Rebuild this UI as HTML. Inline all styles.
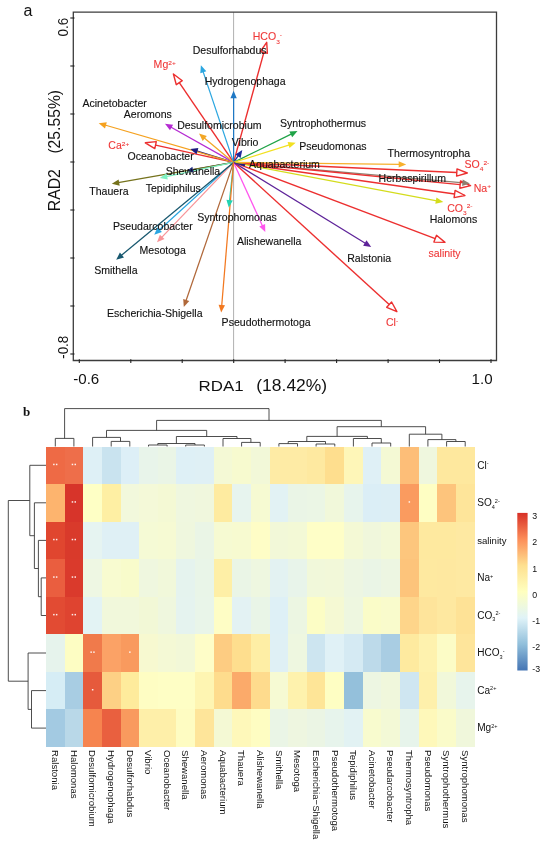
<!DOCTYPE html>
<html><head><meta charset="utf-8"><style>
html,body{margin:0;padding:0;background:#fff;}
body{width:550px;height:848px;overflow:hidden;position:relative;}
svg{position:absolute;left:0;top:0;filter:blur(0.3px);}
</style></head><body>
<svg width="550" height="848" viewBox="0 0 550 848">
<line x1="233.6" y1="12.2" x2="233.6" y2="360.5" stroke="#9a9a9a" stroke-width="0.8"/>
<line x1="233.6" y1="162.4" x2="463.4" y2="182.9" stroke="#8E7F70" stroke-width="1.25"/>
<line x1="233.6" y1="162.4" x2="263.9" y2="52.4" stroke="#EC2F2F" stroke-width="1.4"/>
<polygon points="266.7,42.3 267.4,53.4 260.4,51.5" fill="none" stroke="#EC2F2F" stroke-width="1.4" stroke-linejoin="round"/>
<line x1="233.6" y1="162.4" x2="179.3" y2="82.7" stroke="#EC2F2F" stroke-width="1.4"/>
<polygon points="173.4,74.0 182.3,80.7 176.3,84.7" fill="none" stroke="#EC2F2F" stroke-width="1.4" stroke-linejoin="round"/>
<line x1="233.6" y1="162.4" x2="155.6" y2="145.1" stroke="#EC2F2F" stroke-width="1.4"/>
<polygon points="145.3,142.8 156.3,141.6 154.8,148.6" fill="none" stroke="#EC2F2F" stroke-width="1.4" stroke-linejoin="round"/>
<line x1="233.6" y1="162.4" x2="456.8" y2="172.5" stroke="#EC2F2F" stroke-width="1.4"/>
<polygon points="467.3,173.0 456.6,176.1 457.0,168.9" fill="none" stroke="#EC2F2F" stroke-width="1.4" stroke-linejoin="round"/>
<line x1="233.6" y1="162.4" x2="460.1" y2="184.6" stroke="#EC2F2F" stroke-width="1.4"/>
<polygon points="470.6,185.6 459.8,188.2 460.5,181.0" fill="none" stroke="#EC2F2F" stroke-width="1.4" stroke-linejoin="round"/>
<line x1="233.6" y1="162.4" x2="454.6" y2="194.0" stroke="#EC2F2F" stroke-width="1.4"/>
<polygon points="465.0,195.5 454.1,197.6 455.1,190.4" fill="none" stroke="#EC2F2F" stroke-width="1.4" stroke-linejoin="round"/>
<line x1="233.6" y1="162.4" x2="435.2" y2="238.7" stroke="#EC2F2F" stroke-width="1.4"/>
<polygon points="445.0,242.4 433.9,242.1 436.5,235.3" fill="none" stroke="#EC2F2F" stroke-width="1.4" stroke-linejoin="round"/>
<line x1="233.6" y1="162.4" x2="389.2" y2="304.6" stroke="#EC2F2F" stroke-width="1.4"/>
<polygon points="396.9,311.7 386.7,307.3 391.6,302.0" fill="none" stroke="#EC2F2F" stroke-width="1.4" stroke-linejoin="round"/>
<line x1="233.6" y1="162.4" x2="196.5" y2="150.8" stroke="#1C1C80" stroke-width="1.25"/>
<line x1="233.6" y1="162.4" x2="193.4" y2="169.6" stroke="#1E2A80" stroke-width="1.25"/>
<line x1="233.6" y1="162.4" x2="203.0" y2="71.4" stroke="#2BA6E0" stroke-width="1.25"/>
<line x1="233.6" y1="162.4" x2="233.6" y2="97.3" stroke="#1F78C4" stroke-width="1.25"/>
<line x1="233.6" y1="162.4" x2="104.9" y2="125.0" stroke="#F5A11F" stroke-width="1.25"/>
<line x1="233.6" y1="162.4" x2="170.7" y2="127.0" stroke="#B52BD2" stroke-width="1.25"/>
<line x1="233.6" y1="162.4" x2="204.0" y2="137.8" stroke="#F2A625" stroke-width="1.25"/>
<line x1="233.6" y1="162.4" x2="238.5" y2="155.4" stroke="#1F2A9A" stroke-width="1.25"/>
<line x1="233.6" y1="162.4" x2="291.7" y2="133.9" stroke="#1FA347" stroke-width="1.25"/>
<line x1="233.6" y1="162.4" x2="289.5" y2="144.8" stroke="#F2E021" stroke-width="1.25"/>
<line x1="233.6" y1="162.4" x2="399.7" y2="164.4" stroke="#F7B02C" stroke-width="1.25"/>
<line x1="233.6" y1="162.4" x2="436.9" y2="200.8" stroke="#D4DC1C" stroke-width="1.25"/>
<line x1="233.6" y1="162.4" x2="118.2" y2="182.7" stroke="#75721C" stroke-width="1.25"/>
<line x1="233.6" y1="162.4" x2="166.2" y2="176.6" stroke="#7EF2C2" stroke-width="1.25"/>
<line x1="233.6" y1="162.4" x2="229.5" y2="201.0" stroke="#22D3B2" stroke-width="1.25"/>
<line x1="233.6" y1="162.4" x2="262.6" y2="226.2" stroke="#FF55EE" stroke-width="1.25"/>
<line x1="233.6" y1="162.4" x2="365.7" y2="243.5" stroke="#5E2399" stroke-width="1.25"/>
<line x1="233.6" y1="162.4" x2="159.0" y2="230.3" stroke="#2AA6E2" stroke-width="1.25"/>
<line x1="233.6" y1="162.4" x2="161.5" y2="237.6" stroke="#F89498" stroke-width="1.25"/>
<line x1="233.6" y1="162.4" x2="121.2" y2="255.6" stroke="#18586F" stroke-width="1.25"/>
<line x1="233.6" y1="162.4" x2="185.9" y2="301.0" stroke="#B0683A" stroke-width="1.25"/>
<line x1="233.6" y1="162.4" x2="221.7" y2="306.0" stroke="#F2781F" stroke-width="1.25"/>
<polygon points="190.3,148.9 198.4,148.1 196.5,154.2" fill="#1C1C80"/>
<polygon points="187.0,170.7 192.4,166.7 193.4,172.6" fill="#1E2A80"/>
<polygon points="200.9,65.2 206.3,71.3 200.3,73.3" fill="#2BA6E0"/>
<polygon points="233.6,90.8 236.8,98.3 230.4,98.3" fill="#1F78C4"/>
<polygon points="98.7,123.2 106.8,122.2 105.0,128.4" fill="#F5A11F"/>
<polygon points="165.0,123.8 173.1,124.7 170.0,130.3" fill="#B52BD2"/>
<polygon points="199.0,133.6 206.8,135.9 202.7,140.9" fill="#F2A625"/>
<polygon points="242.3,150.1 240.6,158.1 235.4,154.4" fill="#1F2A9A"/>
<polygon points="297.5,131.0 292.2,137.2 289.4,131.4" fill="#1FA347"/>
<polygon points="295.7,142.8 289.5,148.1 287.6,142.0" fill="#F2E021"/>
<polygon points="406.2,164.5 398.7,167.6 398.7,161.2" fill="#F7B02C"/>
<polygon points="469.9,183.5 462.1,186.0 462.7,179.6" fill="#8E7F70"/>
<polygon points="443.3,202.0 435.3,203.8 436.5,197.5" fill="#D4DC1C"/>
<polygon points="111.8,183.8 118.6,179.4 119.7,185.7" fill="#75721C"/>
<polygon points="159.8,177.9 166.5,173.2 167.8,179.5" fill="#7EF2C2"/>
<polygon points="228.8,207.5 226.4,199.7 232.8,200.4" fill="#22D3B2"/>
<polygon points="265.3,232.1 259.3,226.6 265.1,223.9" fill="#FF55EE"/>
<polygon points="371.2,246.9 363.1,245.7 366.5,240.2" fill="#5E2399"/>
<polygon points="154.2,234.7 157.6,227.3 161.9,232.0" fill="#2AA6E2"/>
<polygon points="157.0,242.3 159.9,234.7 164.5,239.1" fill="#F89498"/>
<polygon points="116.2,259.7 119.9,252.5 124.0,257.4" fill="#18586F"/>
<polygon points="183.8,307.1 183.2,299.0 189.3,301.0" fill="#B0683A"/>
<polygon points="221.2,312.5 218.6,304.8 225.0,305.3" fill="#F2781F"/>
<polygon points="234,162.8 245.5,164.2 244.5,166.6" fill="#1C1C80"/>
<g font-family='"Liberation Sans", sans-serif' font-size="10.0" fill="#111" stroke="#111" stroke-width="0.12">
<text transform="translate(192.7,54.4) scale(1.056,1)">Desulforhabdus</text>
<text transform="translate(204.7,85.2) scale(1.056,1)">Hydrogenophaga</text>
<text transform="translate(82.4,106.9) scale(1.056,1)">Acinetobacter</text>
<text transform="translate(123.8,118.4) scale(1.056,1)">Aeromons</text>
<text transform="translate(177.2,128.7) scale(1.056,1)">Desulfomicrobium</text>
<text transform="translate(127.5,159.9) scale(1.056,1)">Oceanobacter</text>
<text transform="translate(165.7,174.9) scale(1.056,1)">Shewanella</text>
<text transform="translate(231.7,145.5) scale(1.056,1)">Vibrio</text>
<text transform="translate(280.0,127.2) scale(1.056,1)">Syntrophothermus</text>
<text transform="translate(299.2,149.8) scale(1.056,1)">Pseudomonas</text>
<text transform="translate(387.6,157.1) scale(1.056,1)">Thermosyntropha</text>
<text transform="translate(378.6,182.1) scale(1.056,1)">Herbaspirillum</text>
<text transform="translate(429.7,222.5) scale(1.056,1)">Halomons</text>
<text transform="translate(89.3,194.7) scale(1.056,1)">Thauera</text>
<text transform="translate(145.7,191.5) scale(1.056,1)">Tepidiphilus</text>
<text transform="translate(197.2,220.6) scale(1.056,1)">Syntrophomonas</text>
<text transform="translate(236.9,244.6) scale(1.056,1)">Alishewanella</text>
<text transform="translate(347.2,261.6) scale(1.056,1)">Ralstonia</text>
<text transform="translate(113.0,229.5) scale(1.056,1)">Pseudarcobacter</text>
<text transform="translate(139.5,254.1) scale(1.056,1)">Mesotoga</text>
<text transform="translate(94.2,274.2) scale(1.056,1)">Smithella</text>
<text transform="translate(107.0,317.4) scale(1.056,1)">Escherichia-Shigella</text>
<text transform="translate(221.6,326.1) scale(1.056,1)">Pseudothermotoga</text>
<text transform="translate(249,167.6) scale(1.056,1)">Aquabacterium</text>
</g>
<g font-family='"Liberation Sans", sans-serif' font-size="10.0" fill="#EE3737" stroke="#EE3737" stroke-width="0.1">
<text transform="translate(252.7,40.2) scale(1.056,1)">HCO<tspan font-size="6.2" dy="3.3">3</tspan><tspan font-size="6.2" dy="-6.6">-</tspan></text>
<text transform="translate(153.6,68.2) scale(1.056,1)">Mg<tspan font-size="6.2" dy="-3.2">2+</tspan></text>
<text transform="translate(108.3,149.4) scale(1.056,1)">Ca<tspan font-size="6.2" dy="-3.2">2+</tspan></text>
<text transform="translate(464.5,167.7) scale(1.056,1)">SO<tspan font-size="6.2" dy="3.0">4</tspan><tspan font-size="6.2" dy="-6.2">2-</tspan></text>
<text transform="translate(473.7,191.6) scale(1.056,1)">Na<tspan font-size="6.2" dy="-3.2">+</tspan></text>
<text transform="translate(447.2,211.6) scale(1.056,1)">CO<tspan font-size="6.2" dy="3.0">3</tspan><tspan font-size="6.2" dy="-6.2">2-</tspan></text>
<text transform="translate(428.4,256.8) scale(1.056,1)">salinity</text>
<text transform="translate(386,326.2) scale(1.056,1)">Cl<tspan font-size="6.2" dy="-3.2">-</tspan></text>
</g>
<path d="M73.3,12.2 H496.5 V360.5 H73.3 Z" fill="none" stroke="#3c3c3c" stroke-width="1.3"/>
<line x1="70.3" y1="18" x2="74.5" y2="18" stroke="#222" stroke-width="1.1"/>
<line x1="70.3" y1="66" x2="74.5" y2="66" stroke="#222" stroke-width="1.1"/>
<line x1="70.3" y1="114" x2="74.5" y2="114" stroke="#222" stroke-width="1.1"/>
<line x1="70.3" y1="162" x2="74.5" y2="162" stroke="#222" stroke-width="1.1"/>
<line x1="70.3" y1="210" x2="74.5" y2="210" stroke="#222" stroke-width="1.1"/>
<line x1="70.3" y1="258" x2="74.5" y2="258" stroke="#222" stroke-width="1.1"/>
<line x1="70.3" y1="306" x2="74.5" y2="306" stroke="#222" stroke-width="1.1"/>
<line x1="70.3" y1="354" x2="74.5" y2="354" stroke="#222" stroke-width="1.1"/>
<line x1="79.3" y1="359.3" x2="79.3" y2="363" stroke="#222" stroke-width="1.1"/>
<line x1="130.8" y1="359.3" x2="130.8" y2="363" stroke="#222" stroke-width="1.1"/>
<line x1="182.2" y1="359.3" x2="182.2" y2="363" stroke="#222" stroke-width="1.1"/>
<line x1="233.7" y1="359.3" x2="233.7" y2="363" stroke="#222" stroke-width="1.1"/>
<line x1="285.1" y1="359.3" x2="285.1" y2="363" stroke="#222" stroke-width="1.1"/>
<line x1="336.6" y1="359.3" x2="336.6" y2="363" stroke="#222" stroke-width="1.1"/>
<line x1="388.1" y1="359.3" x2="388.1" y2="363" stroke="#222" stroke-width="1.1"/>
<line x1="439.5" y1="359.3" x2="439.5" y2="363" stroke="#222" stroke-width="1.1"/>
<line x1="491.0" y1="359.3" x2="491.0" y2="363" stroke="#222" stroke-width="1.1"/>
<g font-family='"Liberation Sans", sans-serif' fill="#111">
<text font-size="13.4" transform="translate(67.6,36.4) scale(1.06,1) rotate(-90)">0.6</text>
<text font-size="13.4" transform="translate(67.6,358.8) scale(1.06,1) rotate(-90)">-0.8</text>
<text font-size="14" transform="translate(73.2,383.7) scale(1.08,1)">-0.6</text>
<text font-size="14" transform="translate(471.6,383.7) scale(1.08,1)">1.0</text>
</g>
<g font-family='"Liberation Sans", sans-serif' fill="#111">
<text font-size="15.8" transform="translate(60.2,211.2) scale(1.03,1) rotate(-90)">RAD2</text>
<text font-size="15.7" transform="translate(60.2,153.6) scale(1.0,1) rotate(-90)">(25.55%)</text>
<text font-size="15.5" transform="translate(198.5,391) scale(1.09,1)">RDA1</text>
<text font-size="15.6" transform="translate(256.3,391) scale(1.12,1)">(18.42%)</text>
</g>
<text x="23.4" y="15.9" font-family='"Liberation Sans", sans-serif' font-size="16" fill="#111">a</text>
<text x="23" y="415.8" font-family='"Liberation Serif", serif' font-weight="bold" font-size="13" fill="#111">b</text>
<g shape-rendering="crispEdges">
<rect x="46.00" y="446.50" width="18.93" height="37.85" fill="#EE6A45"/>
<rect x="64.63" y="446.50" width="18.93" height="37.85" fill="#EE6E4A"/>
<rect x="83.26" y="446.50" width="18.93" height="37.85" fill="#DEF0F6"/>
<rect x="101.89" y="446.50" width="18.93" height="37.85" fill="#C9E3EF"/>
<rect x="120.52" y="446.50" width="18.93" height="37.85" fill="#DDEFF7"/>
<rect x="139.15" y="446.50" width="18.93" height="37.85" fill="#E8F4EA"/>
<rect x="157.78" y="446.50" width="18.93" height="37.85" fill="#EAF5E6"/>
<rect x="176.41" y="446.50" width="18.93" height="37.85" fill="#DEF0F6"/>
<rect x="195.04" y="446.50" width="18.93" height="37.85" fill="#DFF0F5"/>
<rect x="213.67" y="446.50" width="18.93" height="37.85" fill="#F4F9D5"/>
<rect x="232.30" y="446.50" width="18.93" height="37.85" fill="#F7FACF"/>
<rect x="250.93" y="446.50" width="18.93" height="37.85" fill="#F2F8D8"/>
<rect x="269.57" y="446.50" width="18.93" height="37.85" fill="#FEEBA5"/>
<rect x="288.20" y="446.50" width="18.93" height="37.85" fill="#FEEBA5"/>
<rect x="306.83" y="446.50" width="18.93" height="37.85" fill="#FEE9A0"/>
<rect x="325.46" y="446.50" width="18.93" height="37.85" fill="#FEDE8E"/>
<rect x="344.09" y="446.50" width="18.93" height="37.85" fill="#FEF6B8"/>
<rect x="362.72" y="446.50" width="18.93" height="37.85" fill="#DFF0F6"/>
<rect x="381.35" y="446.50" width="18.93" height="37.85" fill="#F4F9D4"/>
<rect x="399.98" y="446.50" width="18.93" height="37.85" fill="#FDBE78"/>
<rect x="418.61" y="446.50" width="18.93" height="37.85" fill="#EFF7DE"/>
<rect x="437.24" y="446.50" width="18.93" height="37.85" fill="#FEE89E"/>
<rect x="455.87" y="446.50" width="18.93" height="37.85" fill="#FEE89E"/>
<rect x="46.00" y="484.05" width="18.93" height="37.85" fill="#FDB46E"/>
<rect x="64.63" y="484.05" width="18.93" height="37.85" fill="#D7342A"/>
<rect x="83.26" y="484.05" width="18.93" height="37.85" fill="#FEFFC5"/>
<rect x="101.89" y="484.05" width="18.93" height="37.85" fill="#FEEFA3"/>
<rect x="120.52" y="484.05" width="18.93" height="37.85" fill="#F2F8DC"/>
<rect x="139.15" y="484.05" width="18.93" height="37.85" fill="#F4F9D8"/>
<rect x="157.78" y="484.05" width="18.93" height="37.85" fill="#F4F9D4"/>
<rect x="176.41" y="484.05" width="18.93" height="37.85" fill="#EFF7DF"/>
<rect x="195.04" y="484.05" width="18.93" height="37.85" fill="#F0F7DD"/>
<rect x="213.67" y="484.05" width="18.93" height="37.85" fill="#FEEBA0"/>
<rect x="232.30" y="484.05" width="18.93" height="37.85" fill="#E7F4EE"/>
<rect x="250.93" y="484.05" width="18.93" height="37.85" fill="#F6FAD2"/>
<rect x="269.57" y="484.05" width="18.93" height="37.85" fill="#E2F2F4"/>
<rect x="288.20" y="484.05" width="18.93" height="37.85" fill="#EAF5E6"/>
<rect x="306.83" y="484.05" width="18.93" height="37.85" fill="#EBF6E5"/>
<rect x="325.46" y="484.05" width="18.93" height="37.85" fill="#F1F8DA"/>
<rect x="344.09" y="484.05" width="18.93" height="37.85" fill="#E7F4EC"/>
<rect x="362.72" y="484.05" width="18.93" height="37.85" fill="#DBEEF6"/>
<rect x="381.35" y="484.05" width="18.93" height="37.85" fill="#DCEEF5"/>
<rect x="399.98" y="484.05" width="18.93" height="37.85" fill="#FA9B5F"/>
<rect x="418.61" y="484.05" width="18.93" height="37.85" fill="#FEFEC3"/>
<rect x="437.24" y="484.05" width="18.93" height="37.85" fill="#FDC47C"/>
<rect x="455.87" y="484.05" width="18.93" height="37.85" fill="#FEE59A"/>
<rect x="46.00" y="521.60" width="18.93" height="37.85" fill="#E0462F"/>
<rect x="64.63" y="521.60" width="18.93" height="37.85" fill="#D93A2B"/>
<rect x="83.26" y="521.60" width="18.93" height="37.85" fill="#E6F4F1"/>
<rect x="101.89" y="521.60" width="18.93" height="37.85" fill="#DFF0F5"/>
<rect x="120.52" y="521.60" width="18.93" height="37.85" fill="#DFF0F5"/>
<rect x="139.15" y="521.60" width="18.93" height="37.85" fill="#F5FAD5"/>
<rect x="157.78" y="521.60" width="18.93" height="37.85" fill="#F6FAD3"/>
<rect x="176.41" y="521.60" width="18.93" height="37.85" fill="#EFF7DE"/>
<rect x="195.04" y="521.60" width="18.93" height="37.85" fill="#EAF5E6"/>
<rect x="213.67" y="521.60" width="18.93" height="37.85" fill="#F6FAD2"/>
<rect x="232.30" y="521.60" width="18.93" height="37.85" fill="#F7FAD0"/>
<rect x="250.93" y="521.60" width="18.93" height="37.85" fill="#FEFDC6"/>
<rect x="269.57" y="521.60" width="18.93" height="37.85" fill="#F2F8D8"/>
<rect x="288.20" y="521.60" width="18.93" height="37.85" fill="#F3F9D6"/>
<rect x="306.83" y="521.60" width="18.93" height="37.85" fill="#FEFEC7"/>
<rect x="325.46" y="521.60" width="18.93" height="37.85" fill="#FEFEC7"/>
<rect x="344.09" y="521.60" width="18.93" height="37.85" fill="#F4F9D5"/>
<rect x="362.72" y="521.60" width="18.93" height="37.85" fill="#F0F7DC"/>
<rect x="381.35" y="521.60" width="18.93" height="37.85" fill="#F3F9D7"/>
<rect x="399.98" y="521.60" width="18.93" height="37.85" fill="#FDC67D"/>
<rect x="418.61" y="521.60" width="18.93" height="37.85" fill="#FEE99F"/>
<rect x="437.24" y="521.60" width="18.93" height="37.85" fill="#FEE99F"/>
<rect x="455.87" y="521.60" width="18.93" height="37.85" fill="#FEE9A2"/>
<rect x="46.00" y="559.15" width="18.93" height="37.85" fill="#EA5E3F"/>
<rect x="64.63" y="559.15" width="18.93" height="37.85" fill="#DA3A2C"/>
<rect x="83.26" y="559.15" width="18.93" height="37.85" fill="#EEF7E3"/>
<rect x="101.89" y="559.15" width="18.93" height="37.85" fill="#F8FBD0"/>
<rect x="120.52" y="559.15" width="18.93" height="37.85" fill="#F8FBCB"/>
<rect x="139.15" y="559.15" width="18.93" height="37.85" fill="#EFF7DF"/>
<rect x="157.78" y="559.15" width="18.93" height="37.85" fill="#F1F8DA"/>
<rect x="176.41" y="559.15" width="18.93" height="37.85" fill="#E5F3EE"/>
<rect x="195.04" y="559.15" width="18.93" height="37.85" fill="#E9F5E8"/>
<rect x="213.67" y="559.15" width="18.93" height="37.85" fill="#FEEFA6"/>
<rect x="232.30" y="559.15" width="18.93" height="37.85" fill="#EAF5E6"/>
<rect x="250.93" y="559.15" width="18.93" height="37.85" fill="#EEF7E0"/>
<rect x="269.57" y="559.15" width="18.93" height="37.85" fill="#E3F2F2"/>
<rect x="288.20" y="559.15" width="18.93" height="37.85" fill="#E8F4EA"/>
<rect x="306.83" y="559.15" width="18.93" height="37.85" fill="#F1F8DA"/>
<rect x="325.46" y="559.15" width="18.93" height="37.85" fill="#F2F8D9"/>
<rect x="344.09" y="559.15" width="18.93" height="37.85" fill="#EDF6E2"/>
<rect x="362.72" y="559.15" width="18.93" height="37.85" fill="#EAF5E6"/>
<rect x="381.35" y="559.15" width="18.93" height="37.85" fill="#EDF6E2"/>
<rect x="399.98" y="559.15" width="18.93" height="37.85" fill="#FDC47B"/>
<rect x="418.61" y="559.15" width="18.93" height="37.85" fill="#FEE9A0"/>
<rect x="437.24" y="559.15" width="18.93" height="37.85" fill="#FEE8A0"/>
<rect x="455.87" y="559.15" width="18.93" height="37.85" fill="#FEE9A2"/>
<rect x="46.00" y="596.70" width="18.93" height="37.85" fill="#E24B33"/>
<rect x="64.63" y="596.70" width="18.93" height="37.85" fill="#DF4430"/>
<rect x="83.26" y="596.70" width="18.93" height="37.85" fill="#E3F3F4"/>
<rect x="101.89" y="596.70" width="18.93" height="37.85" fill="#F1F8DB"/>
<rect x="120.52" y="596.70" width="18.93" height="37.85" fill="#F1F8DB"/>
<rect x="139.15" y="596.70" width="18.93" height="37.85" fill="#F2F8D6"/>
<rect x="157.78" y="596.70" width="18.93" height="37.85" fill="#EFF7DE"/>
<rect x="176.41" y="596.70" width="18.93" height="37.85" fill="#E5F3EF"/>
<rect x="195.04" y="596.70" width="18.93" height="37.85" fill="#E9F5E9"/>
<rect x="213.67" y="596.70" width="18.93" height="37.85" fill="#FEFDC5"/>
<rect x="232.30" y="596.70" width="18.93" height="37.85" fill="#E3F2F3"/>
<rect x="250.93" y="596.70" width="18.93" height="37.85" fill="#E9F5E7"/>
<rect x="269.57" y="596.70" width="18.93" height="37.85" fill="#DEF0F6"/>
<rect x="288.20" y="596.70" width="18.93" height="37.85" fill="#ECF6E2"/>
<rect x="306.83" y="596.70" width="18.93" height="37.85" fill="#FCFDC5"/>
<rect x="325.46" y="596.70" width="18.93" height="37.85" fill="#F5F9D3"/>
<rect x="344.09" y="596.70" width="18.93" height="37.85" fill="#EEF7E0"/>
<rect x="362.72" y="596.70" width="18.93" height="37.85" fill="#FAFCC8"/>
<rect x="381.35" y="596.70" width="18.93" height="37.85" fill="#F9FBCC"/>
<rect x="399.98" y="596.70" width="18.93" height="37.85" fill="#FED58A"/>
<rect x="418.61" y="596.70" width="18.93" height="37.85" fill="#FEE49B"/>
<rect x="437.24" y="596.70" width="18.93" height="37.85" fill="#FEE8A0"/>
<rect x="455.87" y="596.70" width="18.93" height="37.85" fill="#FEE296"/>
<rect x="46.00" y="634.25" width="18.93" height="37.85" fill="#E6F3EC"/>
<rect x="64.63" y="634.25" width="18.93" height="37.85" fill="#FDFDC3"/>
<rect x="83.26" y="634.25" width="18.93" height="37.85" fill="#F07A4B"/>
<rect x="101.89" y="634.25" width="18.93" height="37.85" fill="#FBA266"/>
<rect x="120.52" y="634.25" width="18.93" height="37.85" fill="#F99A5E"/>
<rect x="139.15" y="634.25" width="18.93" height="37.85" fill="#F7F9D0"/>
<rect x="157.78" y="634.25" width="18.93" height="37.85" fill="#F4F9D5"/>
<rect x="176.41" y="634.25" width="18.93" height="37.85" fill="#F2F8D8"/>
<rect x="195.04" y="634.25" width="18.93" height="37.85" fill="#FEFDC8"/>
<rect x="213.67" y="634.25" width="18.93" height="37.85" fill="#FDCC82"/>
<rect x="232.30" y="634.25" width="18.93" height="37.85" fill="#FEDE8E"/>
<rect x="250.93" y="634.25" width="18.93" height="37.85" fill="#FEEEA5"/>
<rect x="269.57" y="634.25" width="18.93" height="37.85" fill="#DFF0F5"/>
<rect x="288.20" y="634.25" width="18.93" height="37.85" fill="#EEF7E0"/>
<rect x="306.83" y="634.25" width="18.93" height="37.85" fill="#CDE5F0"/>
<rect x="325.46" y="634.25" width="18.93" height="37.85" fill="#E0F1F6"/>
<rect x="344.09" y="634.25" width="18.93" height="37.85" fill="#D5EAF3"/>
<rect x="362.72" y="634.25" width="18.93" height="37.85" fill="#BDDAEA"/>
<rect x="381.35" y="634.25" width="18.93" height="37.85" fill="#A9CDE3"/>
<rect x="399.98" y="634.25" width="18.93" height="37.85" fill="#FEEA9F"/>
<rect x="418.61" y="634.25" width="18.93" height="37.85" fill="#FEF2AE"/>
<rect x="437.24" y="634.25" width="18.93" height="37.85" fill="#FCFCC6"/>
<rect x="455.87" y="634.25" width="18.93" height="37.85" fill="#FEE59B"/>
<rect x="46.00" y="671.80" width="18.93" height="37.85" fill="#D6EDF5"/>
<rect x="64.63" y="671.80" width="18.93" height="37.85" fill="#A8CDE3"/>
<rect x="83.26" y="671.80" width="18.93" height="37.85" fill="#E65A3C"/>
<rect x="101.89" y="671.80" width="18.93" height="37.85" fill="#FDD085"/>
<rect x="120.52" y="671.80" width="18.93" height="37.85" fill="#FEEB9C"/>
<rect x="139.15" y="671.80" width="18.93" height="37.85" fill="#FEFDC3"/>
<rect x="157.78" y="671.80" width="18.93" height="37.85" fill="#FEFEC5"/>
<rect x="176.41" y="671.80" width="18.93" height="37.85" fill="#FEFEC5"/>
<rect x="195.04" y="671.80" width="18.93" height="37.85" fill="#FEF5B2"/>
<rect x="213.67" y="671.80" width="18.93" height="37.85" fill="#FEDC8D"/>
<rect x="232.30" y="671.80" width="18.93" height="37.85" fill="#FBAA6A"/>
<rect x="250.93" y="671.80" width="18.93" height="37.85" fill="#FEDB8D"/>
<rect x="269.57" y="671.80" width="18.93" height="37.85" fill="#F6FAD3"/>
<rect x="288.20" y="671.80" width="18.93" height="37.85" fill="#FEF2AD"/>
<rect x="306.83" y="671.80" width="18.93" height="37.85" fill="#FEE597"/>
<rect x="325.46" y="671.80" width="18.93" height="37.85" fill="#FEFEC3"/>
<rect x="344.09" y="671.80" width="18.93" height="37.85" fill="#94C0DB"/>
<rect x="362.72" y="671.80" width="18.93" height="37.85" fill="#EDF6E2"/>
<rect x="381.35" y="671.80" width="18.93" height="37.85" fill="#F0F7DC"/>
<rect x="399.98" y="671.80" width="18.93" height="37.85" fill="#CFE6F1"/>
<rect x="418.61" y="671.80" width="18.93" height="37.85" fill="#FEF0AB"/>
<rect x="437.24" y="671.80" width="18.93" height="37.85" fill="#F1F8DA"/>
<rect x="455.87" y="671.80" width="18.93" height="37.85" fill="#E7F4EC"/>
<rect x="46.00" y="709.35" width="18.93" height="37.85" fill="#A3CAE2"/>
<rect x="64.63" y="709.35" width="18.93" height="37.85" fill="#B9D8E8"/>
<rect x="83.26" y="709.35" width="18.93" height="37.85" fill="#F6844F"/>
<rect x="101.89" y="709.35" width="18.93" height="37.85" fill="#E9603F"/>
<rect x="120.52" y="709.35" width="18.93" height="37.85" fill="#F99A5E"/>
<rect x="139.15" y="709.35" width="18.93" height="37.85" fill="#FEEFA9"/>
<rect x="157.78" y="709.35" width="18.93" height="37.85" fill="#FEEFA9"/>
<rect x="176.41" y="709.35" width="18.93" height="37.85" fill="#FEFCC2"/>
<rect x="195.04" y="709.35" width="18.93" height="37.85" fill="#FEE59A"/>
<rect x="213.67" y="709.35" width="18.93" height="37.85" fill="#F4F9D4"/>
<rect x="232.30" y="709.35" width="18.93" height="37.85" fill="#FEF8BA"/>
<rect x="250.93" y="709.35" width="18.93" height="37.85" fill="#FEFDC2"/>
<rect x="269.57" y="709.35" width="18.93" height="37.85" fill="#EAF5E6"/>
<rect x="288.20" y="709.35" width="18.93" height="37.85" fill="#EEF6E0"/>
<rect x="306.83" y="709.35" width="18.93" height="37.85" fill="#EBF5E4"/>
<rect x="325.46" y="709.35" width="18.93" height="37.85" fill="#E7F4EC"/>
<rect x="344.09" y="709.35" width="18.93" height="37.85" fill="#E2F2F3"/>
<rect x="362.72" y="709.35" width="18.93" height="37.85" fill="#F8FBCE"/>
<rect x="381.35" y="709.35" width="18.93" height="37.85" fill="#F3F9D6"/>
<rect x="399.98" y="709.35" width="18.93" height="37.85" fill="#E7F4EB"/>
<rect x="418.61" y="709.35" width="18.93" height="37.85" fill="#FEF8BA"/>
<rect x="437.24" y="709.35" width="18.93" height="37.85" fill="#FAFBC9"/>
<rect x="455.87" y="709.35" width="18.93" height="37.85" fill="#F0F7DB"/>
</g>
<rect x="53.1" y="463.7" width="1.5" height="1.5" fill="#fff" opacity="0.9"/>
<rect x="55.9" y="463.7" width="1.5" height="1.5" fill="#fff" opacity="0.9"/>
<rect x="71.7" y="463.7" width="1.5" height="1.5" fill="#fff" opacity="0.9"/>
<rect x="74.5" y="463.7" width="1.5" height="1.5" fill="#fff" opacity="0.9"/>
<rect x="71.7" y="501.2" width="1.5" height="1.5" fill="#fff" opacity="0.9"/>
<rect x="74.5" y="501.2" width="1.5" height="1.5" fill="#fff" opacity="0.9"/>
<rect x="53.1" y="538.8" width="1.5" height="1.5" fill="#fff" opacity="0.9"/>
<rect x="55.9" y="538.8" width="1.5" height="1.5" fill="#fff" opacity="0.9"/>
<rect x="71.7" y="538.8" width="1.5" height="1.5" fill="#fff" opacity="0.9"/>
<rect x="74.5" y="538.8" width="1.5" height="1.5" fill="#fff" opacity="0.9"/>
<rect x="53.1" y="576.3" width="1.5" height="1.5" fill="#fff" opacity="0.9"/>
<rect x="55.9" y="576.3" width="1.5" height="1.5" fill="#fff" opacity="0.9"/>
<rect x="71.7" y="576.3" width="1.5" height="1.5" fill="#fff" opacity="0.9"/>
<rect x="74.5" y="576.3" width="1.5" height="1.5" fill="#fff" opacity="0.9"/>
<rect x="53.1" y="613.9" width="1.5" height="1.5" fill="#fff" opacity="0.9"/>
<rect x="55.9" y="613.9" width="1.5" height="1.5" fill="#fff" opacity="0.9"/>
<rect x="71.7" y="613.9" width="1.5" height="1.5" fill="#fff" opacity="0.9"/>
<rect x="74.5" y="613.9" width="1.5" height="1.5" fill="#fff" opacity="0.9"/>
<rect x="90.4" y="651.4" width="1.5" height="1.5" fill="#fff" opacity="0.9"/>
<rect x="93.2" y="651.4" width="1.5" height="1.5" fill="#fff" opacity="0.9"/>
<rect x="129.1" y="651.4" width="1.5" height="1.5" fill="#fff" opacity="0.9"/>
<rect x="91.9" y="689.0" width="1.5" height="1.5" fill="#fff" opacity="0.9"/>
<rect x="408.6" y="501.2" width="1.5" height="1.5" fill="#fff" opacity="0.9"/>
<path d="M55.3,446.5 V438.4 H73.9 V446.5 M111.2,446.5 V441.4 H129.8 V446.5 M92.6,446.5 V437.4 H120.5 V441.4 M148.5,446.5 V445.0 H167.1 V446.5 M185.7,446.5 V445.0 H204.4 V446.5 M157.8,445.0 V443.5 H195.0 V445.0 M241.6,446.5 V442.4 H260.2 V446.5 M223.0,446.5 V438.5 H250.9 V442.4 M176.4,443.5 V436.5 H237.0 V438.5 M106.5,437.4 V430.4 H206.7 V436.5 M278.9,446.5 V443.6 H297.5 V446.5 M316.1,446.5 V444.0 H334.8 V446.5 M288.2,443.6 V441.5 H325.5 V444.0 M372.0,446.5 V443.0 H390.7 V446.5 M353.4,446.5 V438.5 H381.3 V443.0 M306.8,441.5 V436.4 H367.4 V438.5 M446.6,446.5 V441.5 H465.2 V446.5 M427.9,446.5 V439.6 H455.9 V441.5 M409.3,446.5 V434.2 H441.9 V439.6 M337.1,436.4 V426.7 H425.6 V434.2 M156.6,430.4 V420.4 H381.3 V426.7 M64.6,438.4 V408.6 H269.0 V420.4 M46.0,577.9 H41.2 V615.5 H46.0 M46.0,540.4 H38.4 V596.7 H41.2 M46.0,502.8 H34.4 V568.5 H38.4 M46.0,465.3 H29.8 V535.7 H34.4 M46.0,690.6 H31.5 V728.1 H46.0 M46.0,653.0 H28.1 V709.4 H31.5 M29.8,500.5 H8.3 V681.2 H28.1" fill="none" stroke="#3a3a3a" stroke-width="0.9"/>
<g font-family='"Liberation Sans", sans-serif' font-size="10.4" fill="#111">
<text transform="translate(477.2,468.5) scale(0.97,1)">Cl<tspan font-size="5.7" dy="-3.4">-</tspan></text>
<text transform="translate(477.2,506.0) scale(0.97,1)">SO<tspan font-size="5.7" dy="2.7">4</tspan><tspan font-size="5.7" dy="-6.1">2-</tspan></text>
<text transform="translate(477.2,543.6) scale(1.0,1)" font-size="9.6">salinity</text>
<text transform="translate(477.2,581.1) scale(0.97,1)">Na<tspan font-size="5.7" dy="-3.4">+</tspan></text>
<text transform="translate(477.2,618.7) scale(0.97,1)">CO<tspan font-size="5.7" dy="2.7">3</tspan><tspan font-size="5.7" dy="-6.1">2-</tspan></text>
<text transform="translate(477.2,656.2) scale(0.97,1)">HCO<tspan font-size="5.7" dy="2.7">3</tspan><tspan font-size="5.7" dy="-6.1">-</tspan></text>
<text transform="translate(477.2,693.8) scale(0.97,1)">Ca<tspan font-size="5.7" dy="-3.4">2+</tspan></text>
<text transform="translate(477.2,731.3) scale(0.97,1)">Mg<tspan font-size="5.7" dy="-3.4">2+</tspan></text>
</g>
<g font-family='"Liberation Sans", sans-serif' font-size="9.6" fill="#111">
<text transform="translate(52.0,750) rotate(90)">Ralstonia</text>
<text transform="translate(70.6,750) rotate(90)">Halomonas</text>
<text transform="translate(89.3,750) rotate(90)">Desulfomicrobium</text>
<text transform="translate(107.9,750) rotate(90)">Hydrogenophaga</text>
<text transform="translate(126.5,750) rotate(90)">Desulforhabdus</text>
<text transform="translate(145.2,750) rotate(90)">Vibrio</text>
<text transform="translate(163.8,750) rotate(90)">Oceanobacter</text>
<text transform="translate(182.4,750) rotate(90)">Shewanella</text>
<text transform="translate(201.1,750) rotate(90)">Aeromonas</text>
<text transform="translate(219.7,750) rotate(90)">Aquabacterium</text>
<text transform="translate(238.3,750) rotate(90)">Thauera</text>
<text transform="translate(256.9,750) rotate(90)">Alishewanella</text>
<text transform="translate(275.6,750) rotate(90)">Smithella</text>
<text transform="translate(294.2,750) rotate(90)">Mesotoga</text>
<text transform="translate(312.8,750) rotate(90)">Escherichia−Shigella</text>
<text transform="translate(331.5,750) rotate(90)">Pseudothermotoga</text>
<text transform="translate(350.1,750) rotate(90)">Tepidiphilus</text>
<text transform="translate(368.7,750) rotate(90)">Acinetobacter</text>
<text transform="translate(387.4,750) rotate(90)">Pseudarcobacter</text>
<text transform="translate(406.0,750) rotate(90)">Thermosyntropha</text>
<text transform="translate(424.6,750) rotate(90)">Pseudomonas</text>
<text transform="translate(443.3,750) rotate(90)">Syntrophothermus</text>
<text transform="translate(461.9,750) rotate(90)">Syntrophomonas</text>
</g>
<defs><linearGradient id="lg" x1="0" y1="0" x2="0" y2="1"><stop offset="0" stop-color="#D73027"/><stop offset="0.1667" stop-color="#FC8D59"/><stop offset="0.3333" stop-color="#FEE090"/><stop offset="0.5" stop-color="#FFFFBF"/><stop offset="0.6667" stop-color="#E0F3F8"/><stop offset="0.8333" stop-color="#91BFDB"/><stop offset="1" stop-color="#4575B4"/></linearGradient></defs>
<rect x="517.3" y="512.9" width="10.3" height="157.6" fill="url(#lg)"/>
<g font-family='"Liberation Sans", sans-serif' font-size="8.8" fill="#111">
<text x="532.3" y="519.0">3</text>
<text x="532.3" y="545.3">2</text>
<text x="532.3" y="571.6">1</text>
<text x="532.3" y="597.5">0</text>
<text x="532.3" y="623.9">-1</text>
<text x="532.3" y="650.2">-2</text>
<text x="532.3" y="671.8">-3</text>
</g>
</svg>
</body></html>
